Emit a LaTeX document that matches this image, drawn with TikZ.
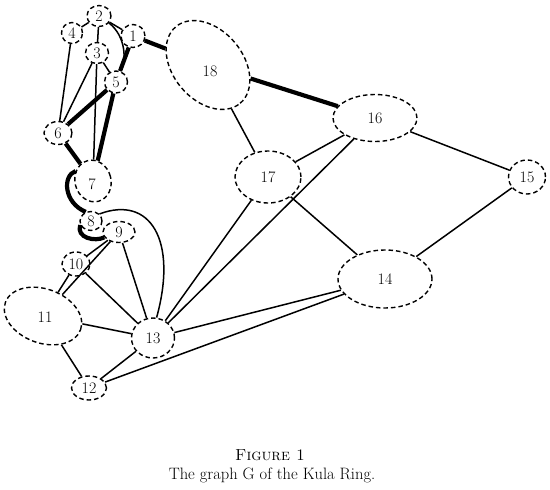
\documentclass[tikz,border=0pt]{standalone}
\usetikzlibrary{shapes.geometric}
\begin{document}
\begin{tikzpicture}[x=1pt,y=-1pt,
  vtx/.style={draw, ellipse, dash pattern=on 4.5pt off 3pt, line width=1.4pt, inner sep=0pt, font=\fontsize{16}{18}\selectfont},
  lbl/.style={inner sep=0pt, font=\fontsize{16}{18}\selectfont},
  ed/.style={line width=1.5pt},
  thk/.style={line width=4.2pt}]
\useasboundingbox (0,0) rectangle (550,490);
% vertices
\node[vtx, minimum width=24, minimum height=21] (n2) at (99,16) {2};
\node[vtx, minimum width=21, minimum height=21] (n4) at (72,33) {4};
\node[vtx, minimum width=24, minimum height=23] (n1) at (133,36) {1};
\node[vtx, minimum width=23, minimum height=21] (n3) at (97,53) {3};
\node[vtx, minimum width=23, minimum height=22] (n5) at (116,82) {5};
\node[vtx, minimum width=28, minimum height=23] (n6) at (58,133) {6};
\node[vtx, minimum width=36, minimum height=42, rotate=15] (n7) at (93,181) {};
\node[lbl] (l7) at (92,184) {7};
\node[vtx, minimum width=22, minimum height=19] (n8) at (91,221) {8};
\node[vtx, minimum width=32, minimum height=21] (n9) at (119,232) {9};
\node[vtx, minimum width=28, minimum height=24] (n10) at (76,264) {10};
\node[vtx, minimum width=80, minimum height=54, rotate=-20] (n11) at (43,316) {};
\node[lbl] (l11) at (45,317) {11};
\node[vtx, minimum width=43, minimum height=40] (n13) at (153,338) {13};
\node[vtx, minimum width=35, minimum height=24] (n12) at (89,388) {12};
\node[vtx, minimum width=100, minimum height=70, rotate=-50] (n18) at (208,65) {};
\node[lbl] (l18) at (210,71) {18};
\node[vtx, minimum width=84, minimum height=47] (n16) at (375,118) {16};
\node[vtx, minimum width=66, minimum height=52] (n17) at (268,177) {17};
\node[vtx, minimum width=37, minimum height=34] (n15) at (527,177) {15};
\node[vtx, minimum width=94, minimum height=58] (n14) at (385,279) {14};
% thin edges
\draw[ed] (n2) -- (n4);
\draw[ed] (n2) -- (n1);
\draw[ed] (n2) -- (n3);
\draw[ed] (n3) -- (n5);
\draw[ed] (n3) -- (n6);
\draw[ed] (n3) -- (n7);
\draw[ed] (n4) -- (n6);
\draw[ed] (n9) -- (n10);
\draw[ed] (n9) -- (n11);
\draw[ed] (n9) -- (n13);
\draw[ed] (n10) -- (n11);
\draw[ed] (n10) -- (n13);
\draw[ed] (n11) -- (n13);
\draw[ed] (n11) -- (n12);
\draw[ed] (n12) -- (n13);
\draw[ed] (n12) -- (n14);
\draw[ed] (n13) -- (n14);
\draw[ed] (n13) -- (n17);
\draw[ed] (n13) -- (n16);
\draw[ed] (n17) -- (n14);
\draw[ed] (n17) -- (n18);
\draw[ed] (n17) -- (n16);
\draw[ed] (n16) -- (n15);
\draw[ed] (n15) -- (n14);
\draw[ed] (n2.-35) .. controls (126,36) and (127,62) .. (n5.70);
\draw[ed] (n8.40) .. controls (150,195) and (178,240) .. (n13.80);
% thick edges
\draw[thk] (n1) -- (n5);
\draw[thk] (n1) -- (n18);
\draw[thk] (n5) -- (n6);
\draw[thk] (n5) -- (n7);
\draw[thk] (n6) -- (n7);
\draw[thk] (n18) -- (n16);
\draw[thk] (n7.135) .. controls (62,176) and (64,203) .. (n8.120);
\draw[thk] (n8.200) .. controls (76,238) and (95,242) .. (n9.200);
% caption
\node[font=\fontsize{16}{18}\selectfont] (cap1) at (270,455) {\textsc{Figure 1}};
\node[font=\fontsize{16.5}{18}\selectfont] (cap2) at (272,475) {The graph G of the Kula Ring.};
\end{tikzpicture}
\end{document}
